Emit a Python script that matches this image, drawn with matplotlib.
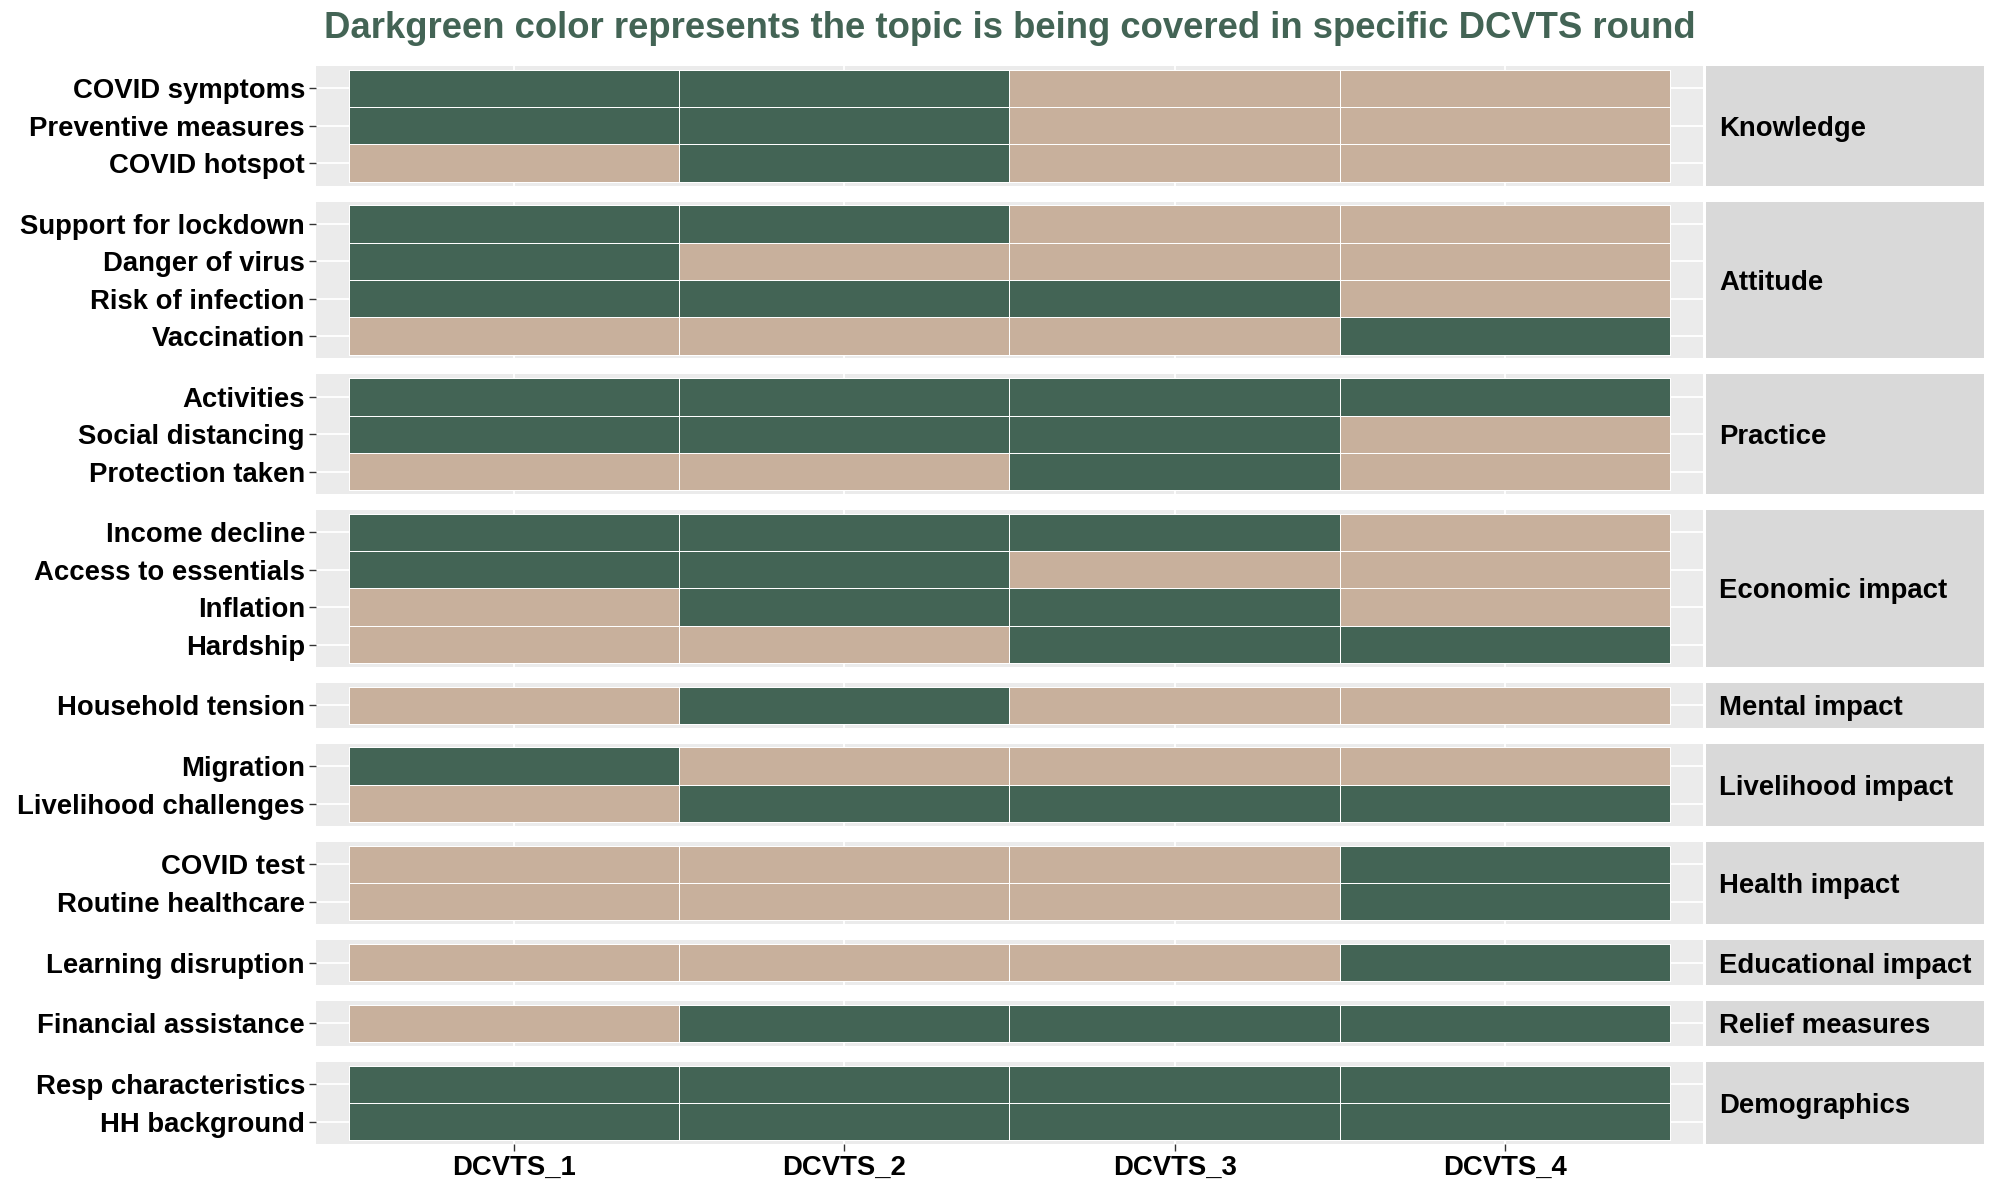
import matplotlib

matplotlib.use("Agg")

import matplotlib.pyplot as plt
from matplotlib.colors import ListedColormap
import numpy as np

plt.rcParams['font.family'] = ['Liberation Sans', 'DejaVu Sans']

# data: 1 = topic covered in that round
rounds = ["DCVTS_1", "DCVTS_2", "DCVTS_3", "DCVTS_4"]
groups = ["Knowledge", "Attitude", "Practice", "Economic impact", "Mental impact",
          "Livelihood impact", "Health impact", "Educational impact", "Relief measures",
          "Demographics"]
topics = [
    ["COVID symptoms", "Preventive measures", "COVID hotspot"],
    ["Support for lockdown", "Danger of virus", "Risk of infection", "Vaccination"],
    ["Activities", "Social distancing", "Protection taken"],
    ["Income decline", "Access to essentials", "Inflation", "Hardship"],
    ["Household tension"],
    ["Migration", "Livelihood challenges"],
    ["COVID test", "Routine healthcare"],
    ["Learning disruption"],
    ["Financial assistance"],
    ["Resp characteristics", "HH background"],
]
covered = [
    [[1, 1, 0, 0], [1, 1, 0, 0], [0, 1, 0, 0]],
    [[1, 1, 0, 0], [1, 0, 0, 0], [1, 1, 1, 0], [0, 0, 0, 1]],
    [[1, 1, 1, 1], [1, 1, 1, 0], [0, 0, 1, 0]],
    [[1, 1, 1, 0], [1, 1, 0, 0], [0, 1, 1, 0], [0, 0, 1, 1]],
    [[0, 1, 0, 0]],
    [[1, 0, 0, 0], [0, 1, 1, 1]],
    [[0, 0, 0, 1], [0, 0, 0, 1]],
    [[0, 0, 0, 1]],
    [[0, 1, 1, 1]],
    [[1, 1, 1, 1], [1, 1, 1, 1]],
]

green = "#436455"
tan = "#C8B09C"
cmap = ListedColormap([tan, green])

W, H = 1999, 1200
fig = plt.figure(figsize=(W / 100, H / 100), dpi=100)

top_px, bottom_px = 66, 1144
gap = 16
left_px, right_px = 316, 1703
strip_l, strip_r = 1706, 1984
units = sum(len(t) + 0.2 for t in topics)
unit = (bottom_px - top_px - gap * (len(topics) - 1)) / units

lab_size = 19.8
y = top_px
for gi, (g, tl, cv) in enumerate(zip(groups, topics, covered)):
    n = len(tl)
    h = (n + 0.2) * unit
    ax = fig.add_axes([left_px / W, 1 - (y + h) / H, (right_px - left_px) / W, h / H])
    ax.set_facecolor("#EBEBEB")
    mat = np.array(cv)[::-1]
    ax.pcolormesh(np.arange(0.5, 5.0, 1.0), np.arange(0.5, n + 1.0, 1.0), mat,
                  cmap=cmap, vmin=0, vmax=1, edgecolors="white", linewidth=0.7, zorder=2)
    ax.set_xlim(0.4, 4.6)
    ax.set_ylim(0.4, n + 0.6)
    ax.set_xticks(range(1, 5))
    ax.set_yticks(range(1, n + 1))
    ax.set_yticklabels(tl[::-1], fontsize=lab_size, fontweight="bold")
    ax.grid(True, color="white", linewidth=1.3, zorder=1)
    ax.set_axisbelow(True)
    for s in ax.spines.values():
        s.set_visible(False)
    ax.tick_params(length=5, width=1, color="#333333", pad=3)
    if gi == len(groups) - 1:
        ax.set_xticklabels(rounds, fontsize=lab_size, fontweight="bold")
    else:
        ax.tick_params(axis="x", length=0, labelbottom=False)

    # facet strip on the right
    sax = fig.add_axes([strip_l / W, 1 - (y + h) / H, (strip_r - strip_l) / W, h / H])
    sax.set_facecolor("#D9D9D9")
    sax.set_xticks([])
    sax.set_yticks([])
    for s in sax.spines.values():
        s.set_visible(False)
    sax.text(13 / (strip_r - strip_l), 0.5, g, transform=sax.transAxes, ha="left",
             va="center_baseline", fontsize=lab_size, fontweight="bold")
    y += h + gap

fig.text((left_px + right_px) / 2 / W, 1 - 29 / H,
         "Darkgreen color represents the topic is being covered in specific DCVTS round",
         ha="center", va="center", fontsize=26.3, fontweight="bold", color=green)

fig.savefig("out.png", dpi=100)
